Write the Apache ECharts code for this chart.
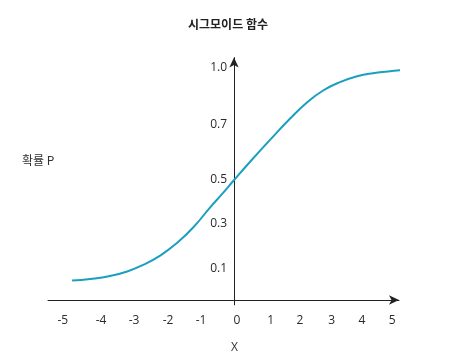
<!DOCTYPE html>
<html><head><meta charset="utf-8">
<script src="https://cdn.jsdelivr.net/npm/echarts@6/dist/echarts.min.js"></script>
<style>html,body{margin:0;padding:0;background:#fff}#c{width:456px;height:363px}</style>
</head><body><div id="c"></div>
<script>
// Curve (axis units)
const curveX = [-4.91, -4.36, -3.76, -3.24, -2.76, -2.24, -1.73, -1.24, -0.73, -0.36, 0.0, 0.48, 1.09, 1.70, 2.21, 2.70, 3.21, 3.73, 4.21, 4.67, 5.12];
const curveY = [0.081, 0.0875, 0.100, 0.119, 0.146, 0.185, 0.2375, 0.302, 0.385, 0.442, 0.500, 0.575, 0.667, 0.756, 0.823, 0.873, 0.908, 0.932, 0.945, 0.952, 0.958];
// Tick labels and where they sit along each axis
const xTickLabels = ['-5', '-4', '-3', '-2', '-1', '0', '1', '2', '3', '4', '5'];
const xTickAt = [-5.19, -4.03, -3.03, -2.0, -1.0, 0.09, 1.11, 2.0, 2.96, 3.88, 4.79];
const yTickLabels = ['0.1', '0.3', '0.5', '0.7', '1.0'];
const yTickAt = [0.129, 0.319, 0.5, 0.729, 0.968];
const titleText = '시그모이드 함수';
const yName = '확률 P';
const xName = 'X';

function nearestLabel(v, at, labels) {
  let best = 0, d = Infinity;
  at.forEach((a, i) => { const dd = Math.abs(a - v); if (dd < d) { d = dd; best = i; } });
  return labels[best];
}

const chart = echarts.init(document.getElementById('c'), null, {renderer: 'canvas'});
const axisColor = '#222';
const labelFont = {fontFamily: '"Open Sans", "Noto Sans", sans-serif', fontSize: 12, color: '#2a2a2a'};
chart.setOption({
  animation: false,
  backgroundColor: '#fff',
  grid: {left: 48, right: 57, top: 57.6, bottom: 58.2, containLabel: false, outerBoundsMode: 'none'},
  xAxis: {
    type: 'value', min: -5.64, max: 5.0,
    position: 'bottom', offset: -4.8,
    splitLine: {show: false},
    axisTick: {show: false},
    axisLine: {onZero: false, lineStyle: {color: axisColor, width: 1}, symbol: ['none', 'arrow'], symbolSize: [7, 10]},
    axisLabel: Object.assign({customValues: xTickAt, margin: 15,
      formatter: v => nearestLabel(v, xTickAt, xTickLabels)}, labelFont)
  },
  yAxis: {
    type: 'value', min: -0.02, max: 1.01,
    position: 'left', offset: -186,
    splitLine: {show: false},
    axisTick: {show: false},
    axisLine: {onZero: false, lineStyle: {color: axisColor, width: 1}, symbol: ['none', 'arrow'], symbolSize: [7, 10]},
    axisLabel: Object.assign({customValues: yTickAt, margin: 7,
      formatter: v => nearestLabel(v, yTickAt, yTickLabels)}, labelFont)
  },
  graphic: [
    {type: 'text', left: 'center', top: 18, style: {text: titleText, font: 'bold 12px "Noto Sans CJK KR", sans-serif', fill: '#222'}},
    {type: 'text', left: 22, top: 154, style: {text: yName, font: '12px "Noto Sans CJK KR", sans-serif', fill: '#333'}},
    {type: 'text', left: 231, top: 342, style: {text: xName, font: '12px "Open Sans", "Noto Sans", sans-serif', fill: '#333'}}
  ],
  series: [{
    type: 'line',
    data: curveX.map((x, i) => [x, curveY[i]]),
    smooth: 0.5,
    clip: false,
    showSymbol: false,
    lineStyle: {color: '#1b9fbf', width: 2},
    z: 3
  }]
});
</script>
</body></html>
